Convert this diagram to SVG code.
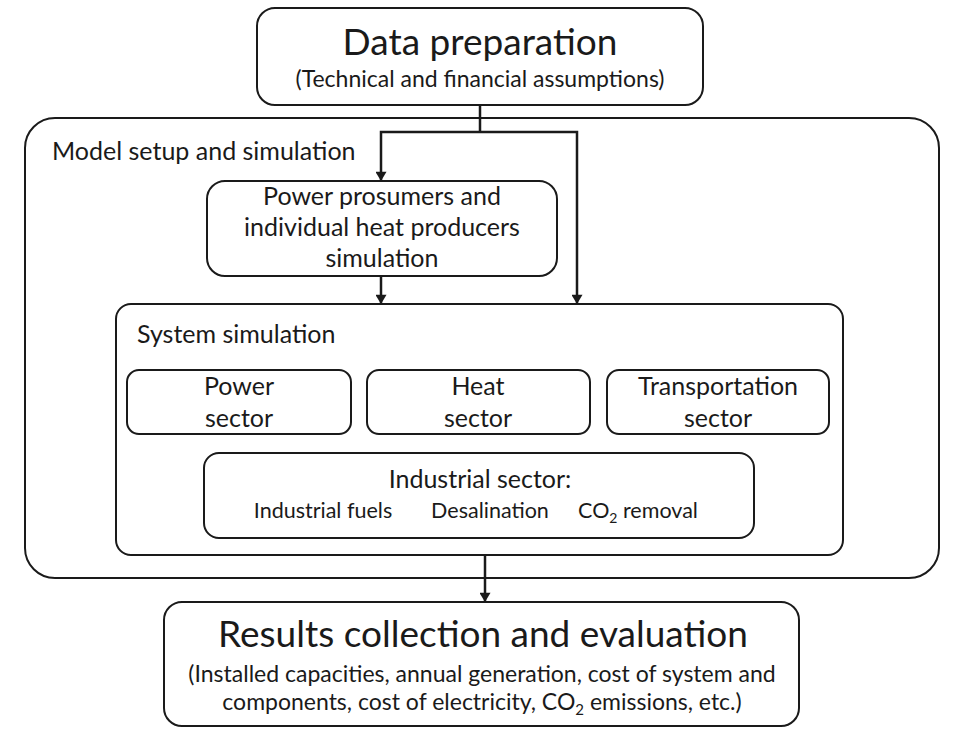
<svg xmlns="http://www.w3.org/2000/svg" width="957" height="729" viewBox="0 0 957 729">
<defs>
<marker id="arr" viewBox="0 0 10 12" refX="10" refY="6" markerWidth="13" markerHeight="11" orient="auto" markerUnits="userSpaceOnUse">
<path d="M0,0 L10,6 L0,12 z" fill="#1a1a1a"/>
</marker>
<style>
.box{fill:#fff;stroke:#1a1a1a;stroke-width:2}
.t{font-family:Lato,"Liberation Sans",sans-serif;fill:#1a1a1a;text-anchor:middle}
.l{text-anchor:start}
.big{font-size:37px}
.sub{font-size:23px}
.med{font-size:25px}
.sm{font-size:21.5px}
.line{fill:none;stroke:#1a1a1a;stroke-width:2.5}
</style>
</defs>
<rect width="957" height="729" fill="#fff"/>
<g id="model-setup">
<rect class="box" x="25" y="118" width="914" height="460" rx="30"/>
<text class="t med l" x="52" y="160">Model setup and simulation</text>
</g>
<g id="data-preparation">
<rect class="box" x="257" y="8" width="446" height="97" rx="18"/>
<text class="t big" x="480" y="55">Data preparation</text>
<text class="t sub" x="480" y="87">(Technical and financial assumptions)</text>
</g>
<g id="prosumers">
<rect class="box" x="207" y="181" width="350" height="95" rx="18"/>
<text class="t med" x="382" y="205">Power prosumers and</text>
<text class="t med" x="382" y="236">individual heat producers</text>
<text class="t med" x="382" y="267">simulation</text>
</g>
<g id="system-simulation">
<rect class="box" x="116" y="304" width="727" height="251" rx="15"/>
<text class="t med l" x="137" y="343">System simulation</text>
</g>
<g id="power-sector">
<rect class="box" x="127" y="370" width="224" height="64" rx="12"/>
<text class="t med" x="239" y="395">Power</text>
<text class="t med" x="239" y="427">sector</text>
</g>
<g id="heat-sector">
<rect class="box" x="367" y="370" width="223" height="64" rx="12"/>
<text class="t med" x="478" y="395">Heat</text>
<text class="t med" x="478" y="427">sector</text>
</g>
<g id="transport-sector">
<rect class="box" x="607" y="370" width="222" height="64" rx="12"/>
<text class="t med" x="718" y="395">Transportation</text>
<text class="t med" x="718" y="427">sector</text>
</g>
<g id="industrial-sector">
<rect class="box" x="204" y="453" width="550" height="85" rx="15"/>
<text class="t med" x="480" y="488">Industrial sector:</text>
<text class="t sm" x="323" y="518">Industrial fuels</text>
<text class="t sm" x="490" y="518">Desalination</text>
<text class="t sm" x="638" y="518">CO<tspan font-size="14" dy="5">2</tspan><tspan dy="-5"> removal</tspan></text>
</g>
<g id="results">
<rect class="box" x="164" y="602" width="635" height="124" rx="18"/>
<text class="t big" x="483" y="647">Results collection and evaluation</text>
<text class="t sub" x="482" y="682">(Installed capacities, annual generation, cost of system and</text>
<text class="t sub" x="482" y="710">components, cost of electricity, CO<tspan font-size="15" dy="5">2</tspan><tspan dy="-5"> emissions, etc.)</tspan></text>
</g>
<g id="connectors">
<path class="line" d="M480,105 V132"/>
<path class="line" d="M480,132 H381 V181" marker-end="url(#arr)"/>
<path class="line" d="M480,132 H577 V304" marker-end="url(#arr)"/>
<path class="line" d="M381,276 V304" marker-end="url(#arr)"/>
<path class="line" d="M485,555 V602" marker-end="url(#arr)"/>
</g>
</svg>
